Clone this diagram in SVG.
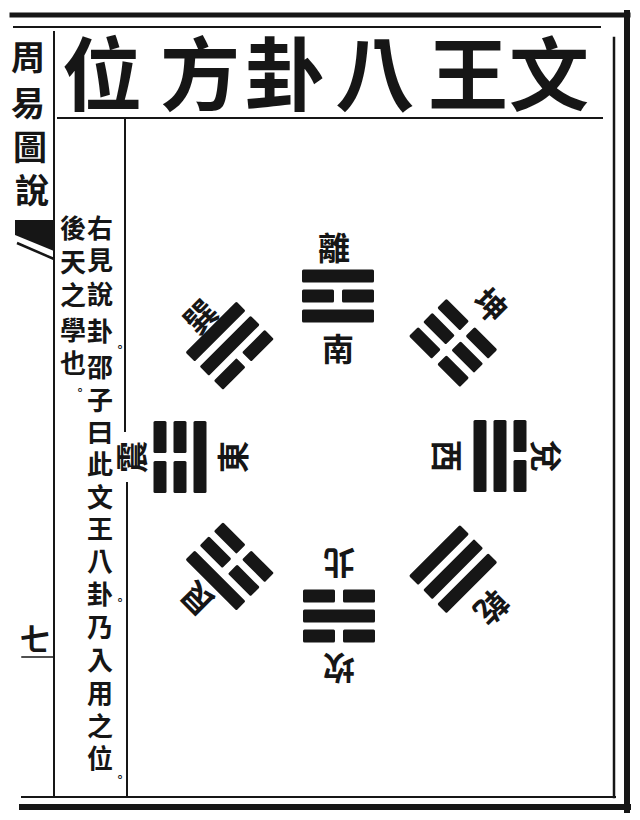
<svg xmlns="http://www.w3.org/2000/svg" width="640" height="820" viewBox="0 0 640 820">
<style>
  .rule{stroke:#161616;fill:none;stroke-linecap:square}
  .thin{stroke-width:2}
  .thick{stroke-width:6}
  .tri{fill:#161616}
  text{font-family:"Noto Sans CJK TC","Noto Sans CJK SC","Noto Sans CJK JP",sans-serif;fill:#161616;text-anchor:middle}
  .title{font-size:80px;font-weight:700}
  .margin{font-size:34px;font-weight:700}
  .body{font-size:26px;font-weight:700}
  .mark{font-size:12px;font-weight:700}
  .lab{font-size:32px;font-weight:700}
</style>
<defs>
  <rect id="yang" x="-36" y="-6.5" width="72" height="13" rx="1.5"/>
  <g id="yin">
    <rect x="-36" y="-6.5" width="32" height="13" rx="1.5"/>
    <rect x="4" y="-6.5" width="32" height="13" rx="1.5"/>
  </g>
</defs>
<rect width="640" height="820" fill="#ffffff"/>

<g id="frame">
  <line class="rule thick" x1="12" y1="15" x2="628" y2="15" style="stroke-width:5"/>
  <line class="rule thick" x1="627" y1="13" x2="627" y2="810"/>
  <line class="rule thick" x1="22" y1="807" x2="628" y2="807"/>
  <line class="rule thin" x1="14" y1="27" x2="600" y2="27"/>
  <line class="rule thin" x1="614" y1="38" x2="614" y2="797" style="stroke-width:2.5"/>
  <line class="rule thin" x1="22" y1="797" x2="615" y2="797"/>
  <line class="rule thin" x1="54" y1="32" x2="54" y2="797"/>
  <line class="rule thin" x1="58" y1="118" x2="602" y2="118"/>
  <line class="rule thin" x1="125" y1="120" x2="125" y2="431"/>
  <line class="rule thin" x1="127" y1="483" x2="127" y2="797"/>
  <line class="rule" x1="22" y1="657" x2="54" y2="657" style="stroke-width:1.5"/>
  <polygon class="tri" points="15,220 54,220 54,251 15,235"/>
  <line class="rule" x1="17" y1="243" x2="54" y2="259" style="stroke-width:2.5;stroke-linecap:butt"/>
</g>

<g id="title">
  <text class="title" x="102 200 285 375 468 549" y="104">位方卦八王文</text>
</g>

<g id="margin-text">
  <text class="margin" x="28 28 30 32" y="70 116 160 203">周易圖說</text>
  <text class="margin" x="35" y="650" style="font-size:30px">七</text>
</g>

<g id="note">
  <text class="body"><tspan x="100 100 100 100" y="238 270 304 341">右見說卦</tspan><tspan class="mark" x="120" y="352">。</tspan><tspan x="100 100 100 100 100 100 100 100" y="377 410 442 474 507 539 571 604">邵子曰此文王八卦</tspan><tspan class="mark" x="120" y="605">。</tspan><tspan x="100 100 100 100 100" y="637 670 703 736 768">乃入用之位</tspan><tspan class="mark" x="120" y="782">。</tspan></text>
  <text class="body"><tspan x="73 73 73 73 73" y="238 272 305 340 373">後天之學也</tspan><tspan class="mark" x="80" y="395">。</tspan></text>
</g>

<g id="li" class="tri" transform="rotate(0 340 456)">
  <use href="#yang" x="338" y="276"/>
  <use href="#yin" x="338" y="296"/>
  <use href="#yang" x="338" y="316"/>
  <text class="lab" x="334" y="260">離</text>
  <text class="lab" x="338" y="361">南</text>
</g>

<g id="kun" class="tri" transform="rotate(45 340 456)">
  <use href="#yin" x="340" y="276"/>
  <use href="#yin" x="340" y="296"/>
  <use href="#yin" x="340" y="316"/>
  <text class="lab" x="340" y="255">坤</text>
</g>

<g id="dui" class="tri" transform="rotate(90 340 456)">
  <use href="#yin" x="340" y="276"/>
  <use href="#yang" x="340" y="296"/>
  <use href="#yang" x="340" y="316"/>
  <text class="lab" x="340" y="262">兌</text>
  <text class="lab" x="340" y="361">西</text>
</g>

<g id="qian" class="tri" transform="rotate(135 340 456)">
  <use href="#yang" x="340" y="276"/>
  <use href="#yang" x="340" y="296"/>
  <use href="#yang" x="340" y="316"/>
  <text class="lab" x="340" y="254">乾</text>
</g>

<g id="kan" class="tri" transform="rotate(180 340 456)">
  <use href="#yin" x="341" y="276"/>
  <use href="#yang" x="341" y="296"/>
  <use href="#yin" x="341" y="316"/>
  <text class="lab" x="341" y="256">坎</text>
  <text class="lab" x="341" y="361">北</text>
</g>

<g id="gen" class="tri" transform="rotate(225 340 456)">
  <use href="#yang" x="340" y="280"/>
  <use href="#yin" x="340" y="300"/>
  <use href="#yin" x="340" y="320"/>
  <text class="lab" x="340" y="266">艮</text>
</g>

<g id="zhen" class="tri" transform="rotate(270 340 456)">
  <use href="#yin" x="339" y="276"/>
  <use href="#yin" x="339" y="296"/>
  <use href="#yang" x="339" y="316"/>
  <text class="lab" x="339" y="260">震</text>
  <text class="lab" x="339" y="361">東</text>
</g>

<g id="xun" class="tri" transform="rotate(315 340 456)">
  <use href="#yang" x="340" y="280"/>
  <use href="#yang" x="340" y="300"/>
  <use href="#yin" x="340" y="320"/>
  <text class="lab" x="340" y="271">巽</text>
</g>
</svg>
